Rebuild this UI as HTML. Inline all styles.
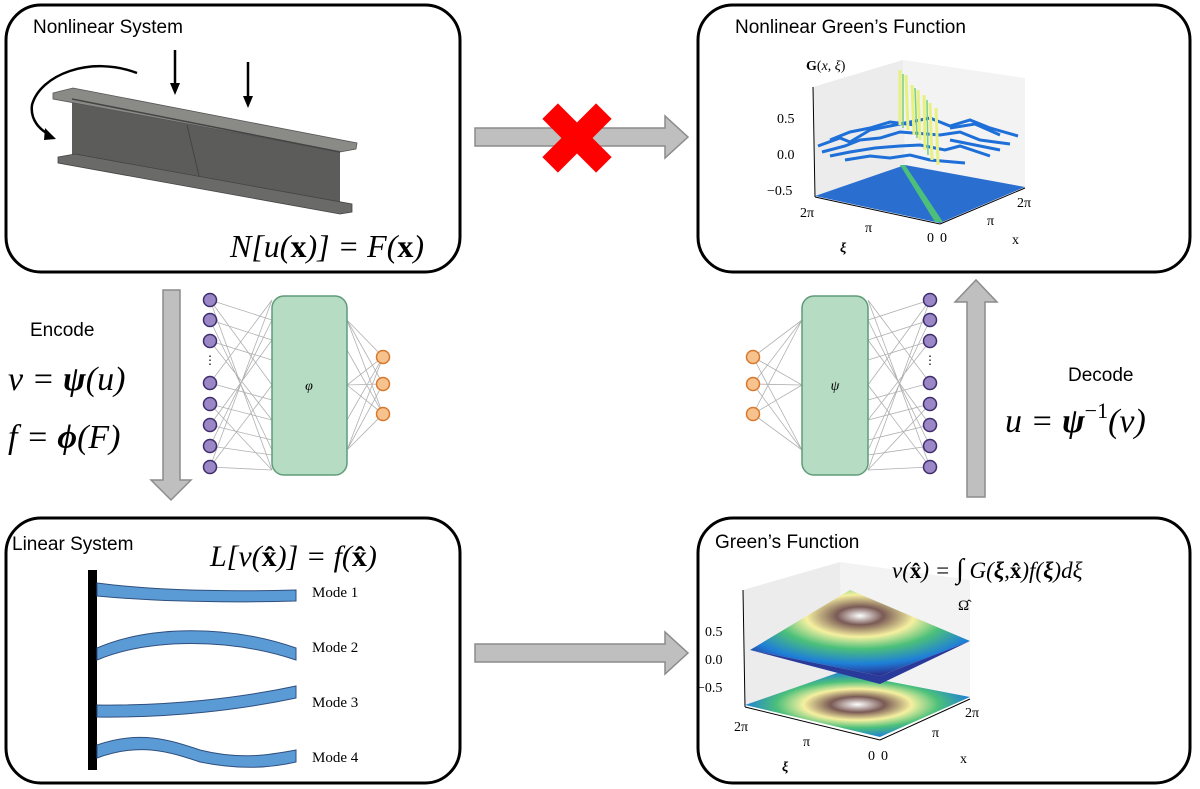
<!DOCTYPE html>
<html><head><meta charset="utf-8"><style>
html,body{margin:0;padding:0;background:#fff;}
svg{display:block;}
.s{font-family:"Liberation Sans",sans-serif;}
.m{font-family:"Liberation Serif",serif;font-style:italic;}
.r{font-family:"Liberation Serif",serif;}
</style></head><body>
<svg width="1200" height="789" viewBox="0 0 1200 789" xmlns="http://www.w3.org/2000/svg">
<defs>
<radialGradient id="pk" cx="0.5" cy="0.3" r="0.7"><stop offset="0" stop-color="#ffffff"/><stop offset="0.15" stop-color="#7a5a55"/><stop offset="0.35" stop-color="#f6f0a0"/><stop offset="0.55" stop-color="#4cc07a"/><stop offset="0.8" stop-color="#1e7fd8"/><stop offset="1" stop-color="#2a2a8a"/></radialGradient>
<radialGradient id="pk2" cx="0.5" cy="0.5" r="0.6"><stop offset="0" stop-color="#ffffff"/><stop offset="0.2" stop-color="#7a5a55"/><stop offset="0.4" stop-color="#f6f0a0"/><stop offset="0.6" stop-color="#4cc07a"/><stop offset="0.85" stop-color="#1e7fd8"/><stop offset="1" stop-color="#2a2a8a"/></radialGradient>
</defs>
<rect x="6" y="5" width="454" height="267" rx="35" fill="none" stroke="#000" stroke-width="3"/>
<rect x="698" y="5" width="492" height="267" rx="35" fill="none" stroke="#000" stroke-width="3"/>
<rect x="6" y="518" width="454" height="265" rx="35" fill="none" stroke="#000" stroke-width="3"/>
<rect x="698" y="518" width="492" height="265" rx="35" fill="none" stroke="#000" stroke-width="3"/>

<g fill="#bfbfbf" stroke="#8c8c8c" stroke-width="1.5">
<polygon points="475,128 665,128 665,116 688,137 665,158 665,146 475,146"/>
<polygon points="475,644 665,644 665,632 688,653 665,674 665,662 475,662"/>
<polygon points="163,290 180,290 180,480 191,480 171,500 151,480 163,480"/>
<polygon points="967,497 985,497 985,302 997,302 976,280 955,302 967,302"/>
</g>
<g transform="translate(577,138) rotate(45)" fill="#ff0000"><rect x="-38" y="-11" width="76" height="22"/><rect x="-11" y="-38" width="22" height="76"/></g>

<text x="33" y="33" class="s" font-size="19">Nonlinear System</text>
<text x="735" y="33" class="s" font-size="19">Nonlinear Green’s Function</text>
<text x="12" y="550" class="s" font-size="19">Linear System</text>
<text x="715" y="548" class="s" font-size="19">Green’s Function</text>

<!-- beam -->
<polygon points="72,100 340,148 340,208 72,160" fill="#5c5c5a"/>
<line x1="187" y1="125" x2="200" y2="180" stroke="#444" stroke-width="1"/>
<polygon points="58,157 75,154 352,204 352,212 340,214 58,163" fill="#6a6a68" stroke="#444" stroke-width="0.8"/>
<polygon points="53,93 73,88 357,143 356,149 340,152 53,99" fill="#8a8a86" stroke="#555" stroke-width="0.8"/>
<line x1="72" y1="99" x2="340" y2="152" stroke="#444" stroke-width="1.5"/>
<line x1="175" y1="50" x2="175" y2="85" stroke="#000" stroke-width="2.5"/><polygon points="170,83 180,83 175,95"/>
<line x1="248" y1="62" x2="248" y2="98" stroke="#000" stroke-width="2.5"/><polygon points="243,96 253,96 248,108"/>
<path d="M137,73 C90,55 40,75 32,105 C30,120 40,130 50,135" stroke="#000" stroke-width="2.5" fill="none"/><polygon points="45,128 56,139 44,140"/>
<text x="230" y="257" class="m" font-size="32">N[u(<tspan font-weight="bold" font-style="normal">x</tspan>)] = F(<tspan font-weight="bold" font-style="normal">x</tspan>)</text>

<text x="30" y="336" class="s" font-size="19">Encode</text>
<text x="8" y="390" class="m" font-size="34">v = <tspan font-weight="bold">ψ</tspan>(u)</text>
<text x="8" y="448" class="m" font-size="34">f = <tspan font-weight="bold">ϕ</tspan>(F)</text>
<text x="1068" y="381" class="s" font-size="19">Decode</text>
<text x="1005" y="432" class="m" font-size="34">u = <tspan font-weight="bold">ψ</tspan><tspan font-style="normal" font-size="22" dy="-14">−1</tspan><tspan dy="14">(v)</tspan></text>

<g stroke="#b0b0b0" stroke-width="0.8">
<path d="M210,300 L272,320 M210,320 L272,340 M210,341 L272,360 M210,383 L272,400 M210,404 L272,420 M210,425 L272,440 M210,446 L272,455 M210,467 L272,470 M210,300 L272,470 M210,467 L272,300 M210,320 L272,450 M210,446 L272,320 M210,341 L272,420 M210,425 L272,340 M210,383 L272,300 M210,404 L272,470 M210,300 L272,385 M210,467 L272,385"/>
<path d="M347,320 L383,357 M347,320 L383,384 M347,320 L383,414 M347,385 L383,357 M347,385 L383,384 M347,385 L383,414 M347,450 L383,357 M347,450 L383,384 M347,450 L383,414 M347,350 L383,414 M347,420 L383,357"/>
<path d="M930,300 L868,320 M930,320 L868,340 M930,341 L868,360 M930,383 L868,400 M930,404 L868,420 M930,425 L868,440 M930,446 L868,455 M930,467 L868,470 M930,300 L868,470 M930,467 L868,300 M930,320 L868,450 M930,446 L868,320 M930,341 L868,420 M930,425 L868,340 M930,383 L868,300 M930,404 L868,470 M930,300 L868,385 M930,467 L868,385"/>
<path d="M802,320 L753,357 M802,320 L753,384 M802,320 L753,414 M802,385 L753,357 M802,385 L753,384 M802,385 L753,414 M802,450 L753,357 M802,450 L753,384 M802,450 L753,414"/>
</g>
<rect x="272" y="296" width="75" height="179" rx="12" fill="#b6dcc3" stroke="#5f9c78" stroke-width="1.5"/>
<text x="309" y="390" class="m" font-size="14" text-anchor="middle">φ</text>
<rect x="802" y="296" width="66" height="179" rx="12" fill="#b6dcc3" stroke="#5f9c78" stroke-width="1.5"/>
<text x="835" y="390" class="m" font-size="14" text-anchor="middle">ψ</text>
<g fill="#9b87c6" stroke="#3e2e6e" stroke-width="1.5">
<circle cx="210" cy="300" r="6.5"/><circle cx="210" cy="320" r="6.5"/><circle cx="210" cy="341" r="6.5"/><circle cx="210" cy="383" r="6.5"/><circle cx="210" cy="404" r="6.5"/><circle cx="210" cy="425" r="6.5"/><circle cx="210" cy="446" r="6.5"/><circle cx="210" cy="467" r="6.5"/>
<circle cx="930" cy="300" r="6.5"/><circle cx="930" cy="320" r="6.5"/><circle cx="930" cy="341" r="6.5"/><circle cx="930" cy="383" r="6.5"/><circle cx="930" cy="404" r="6.5"/><circle cx="930" cy="425" r="6.5"/><circle cx="930" cy="446" r="6.5"/><circle cx="930" cy="467" r="6.5"/>
</g>
<text x="210" y="364" font-size="12" text-anchor="middle" class="s">⋮</text>
<text x="930" y="364" font-size="12" text-anchor="middle" class="s">⋮</text>
<g fill="#f6c28e" stroke="#d9772a" stroke-width="1.5">
<circle cx="383" cy="357" r="6.5"/><circle cx="383" cy="384" r="6.5"/><circle cx="383" cy="414" r="6.5"/>
<circle cx="753" cy="357" r="6.5"/><circle cx="753" cy="384" r="6.5"/><circle cx="753" cy="414" r="6.5"/>
</g>

<text x="210" y="566" class="m" font-size="30">L[v(<tspan font-weight="bold" font-style="normal">x̂</tspan>)] = f(<tspan font-weight="bold" font-style="normal">x̂</tspan>)</text>
<rect x="88" y="570" width="9" height="200" fill="#000"/>
<g fill="#5b9bd5" stroke="#2f4f7f" stroke-width="1">
<path d="M97,583 C150,590 220,592 296,590 L296,601 C220,603 150,601 97,596 Z"/>
<path d="M97,648 C150,625 230,625 296,648 L296,660 C230,638 150,638 97,660 Z"/>
<path d="M97,705 C170,706 240,698 296,686 L296,698 C240,710 170,718 97,717 Z"/>
<path d="M97,745 C140,730 170,740 200,750 C240,760 270,755 296,750 L296,762 C270,768 240,770 200,762 C170,752 140,742 97,758 Z"/>
</g>
<text x="312" y="597" class="r" font-size="15">Mode 1</text>
<text x="312" y="652" class="r" font-size="15">Mode 2</text>
<text x="312" y="707" class="r" font-size="15">Mode 3</text>
<text x="312" y="762" class="r" font-size="15">Mode 4</text>

<!-- top-right plot -->
<polygon points="813,87 903,60 905,165 815,196" fill="#ececec"/>
<polygon points="903,60 1025,78 1025,187 905,165" fill="#f3f3f3"/>
<polygon points="815,196 905,165 1025,187 940,223" fill="#2a6fd0"/>
<line x1="813" y1="87" x2="815" y2="197" stroke="#000"/>
<line x1="815" y1="197" x2="940" y2="224" stroke="#000"/>
<line x1="940" y1="224" x2="1025" y2="188" stroke="#000"/>
<polygon points="900,165 905,165 943,222 935,222" fill="#4cc07a"/>
<g stroke="#1e6fd8" stroke-width="3" fill="none">
<path d="M818,146 L840,138 L850,142 L870,130 L890,126 L910,122 L930,118 L950,126 L970,120 L990,128 L1018,136"/>
<path d="M822,152 L845,146 L860,140 L880,138 L900,132 L940,135 L960,132 L980,140 L1010,144"/>
<path d="M830,156 L850,152 L875,148 L900,146 L920,145 L945,150 L960,146 L990,156"/>
<path d="M845,160 L870,156 L890,158 L910,155 L930,160 L965,163"/>
<path d="M830,140 L850,132 L870,128 L890,122 L915,125 M950,128 L975,124 L1000,135"/>
<path d="M950,140 L980,146 L1000,150"/>
</g>
<g stroke="#e8f080" stroke-width="3">
<line x1="900" y1="70" x2="900" y2="125"/><line x1="906" y1="75" x2="908" y2="130"/><line x1="912" y1="85" x2="914" y2="135"/><line x1="918" y1="90" x2="920" y2="140"/><line x1="924" y1="95" x2="925" y2="150"/><line x1="930" y1="103" x2="932" y2="160"/><line x1="936" y1="108" x2="938" y2="165"/>
</g>
<g stroke="#7ad07a" stroke-width="1.5"><line x1="903" y1="74" x2="903" y2="128"/><line x1="915" y1="88" x2="917" y2="138"/><line x1="927" y1="100" x2="928" y2="155"/></g>
<text x="806" y="70" class="r" font-size="14"><tspan font-weight="bold">G</tspan>(<tspan font-style="italic">x</tspan>, <tspan font-style="italic">ξ</tspan>)</text>
<g class="r" font-size="14">
<text x="777" y="123">0.5</text><text x="777" y="159">0.0</text><text x="767" y="195">−0.5</text>
<text x="800" y="217">2π</text><text x="865" y="232">π</text><text x="927" y="242">0</text><text x="940" y="242">0</text>
<text x="1017" y="207">2π</text><text x="987" y="225">π</text><text x="1012" y="244">x</text>
<text x="840" y="252" font-weight="bold" font-style="italic">ξ</text>
</g>

<!-- bottom-right plot -->
<polygon points="743,590 840,562 842,672 745,705" fill="#ececec"/>
<polygon points="840,562 970,580 970,697 842,672" fill="#f3f3f3"/>
<polygon points="745,705 840,672 970,697 880,737" fill="url(#pk2)"/>
<polygon points="750,650 850,590 970,641 880,676" fill="url(#pk)"/>
<polygon points="750,650 880,676 970,641 880,684" fill="#2a3a9a"/>
<line x1="743" y1="590" x2="745" y2="707" stroke="#000"/>
<line x1="745" y1="707" x2="880" y2="740" stroke="#000"/>
<line x1="880" y1="740" x2="970" y2="699" stroke="#000"/>
<g class="r" font-size="14">
<text x="705" y="636">0.5</text><text x="705" y="664">0.0</text><text x="697" y="692">−0.5</text>
<text x="734" y="731">2π</text><text x="803" y="746">π</text><text x="868" y="760">0</text><text x="881" y="760">0</text>
<text x="965" y="717">2π</text><text x="932" y="737">π</text><text x="960" y="763">x</text>
<text x="782" y="771" font-weight="bold" font-style="italic">ξ</text>
</g>
<text x="892" y="578" class="m" font-size="23">v(<tspan font-weight="bold" font-style="normal">x̂</tspan>) = <tspan font-style="normal" font-size="28">∫</tspan> G(<tspan font-weight="bold">ξ</tspan>,<tspan font-weight="bold" font-style="normal">x̂</tspan>)f(<tspan font-weight="bold">ξ</tspan>)dξ</text>
<text x="958" y="610" class="r" font-size="15">Ω̂</text>
</svg>
</body></html>
